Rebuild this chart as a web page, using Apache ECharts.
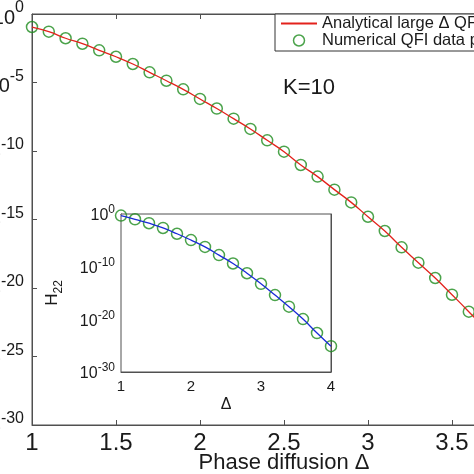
<!DOCTYPE html>
<html>
<head>
<meta charset="utf-8">
<script src="https://cdn.jsdelivr.net/npm/echarts@6/dist/echarts.min.js"></script>
<style>
  html, body { margin: 0; padding: 0; background: #fff; }
  #chart { width: 474px; height: 474px; }
</style>
</head>
<body>
<div id="chart"></div>
<script>
// main panel: phase diffusion vs log10 of the QFI (K=10)
const mainX = [1.0, 1.1, 1.2, 1.3, 1.4, 1.5, 1.6, 1.7, 1.8, 1.9, 2.0, 2.1, 2.2, 2.3, 2.4,
  2.5, 2.6, 2.7, 2.8, 2.9, 3.0, 3.1, 3.2, 3.3, 3.4, 3.5, 3.6, 3.7];
const mainLog10 = [-0.95, -1.29, -1.77, -2.17, -2.65, -3.12, -3.65, -4.26, -4.87, -5.5, -6.2, -6.9,
  -7.64, -8.39, -9.22, -10.05, -11.02, -11.87, -12.82, -13.75, -14.8, -15.84, -17.03, -18.15,
  -19.27, -20.49, -21.73, -23.0];

// inset: H22 vs delta
const insetX = [1.0, 1.2, 1.4, 1.6, 1.8, 2.0, 2.2, 2.4, 2.6, 2.8, 3.0, 3.2, 3.4, 3.6, 3.8, 4.0];
const insetLog10 = [-0.3, -1.0, -1.75, -2.65, -3.75, -4.95, -6.25, -7.8, -9.4, -11.25, -13.25,
  -15.4, -17.6, -19.95, -22.6, -25.1];

const legendNames = ['Analytical large \u0394 QFI', 'Numerical QFI data points'];

const FONT = "'Liberation Sans', Arial, sans-serif";
const AXIS = '#505050';
const TXT = '#1a1a1a';
const GREEN = '#1e8c1e';
const RED = '#e3221c';

const pairs = (xs, ys) => xs.map((x, i) => [x, ys[i]]);
const pow10 = v => '{b|10}{s|' + Math.round(v) + '}';

const chart = echarts.init(document.getElementById('chart'));

const boxAxis = (grid, pos, extra) => Object.assign({
  gridIndex: grid,
  position: pos,
  type: 'value',
  axisLine: {show: true, onZero: false, lineStyle: {color: AXIS, width: 1}},
  axisTick: {show: true, inside: true, length: 5, lineStyle: {color: AXIS}},
  axisLabel: {show: false},
  splitLine: {show: false}
}, extra);

const option = {
  animation: false,
  backgroundColor: '#fff',
  textStyle: {fontFamily: FONT},
  grid: [
    {left: 32, top: 14, width: 504, height: 411, show: true, borderColor: AXIS, borderWidth: 1,
      outerBoundsMode: 'none', containLabel: false},
    {left: 121, top: 214, width: 210, height: 158, show: true, borderColor: AXIS, borderWidth: 1,
      backgroundColor: '#fff', z: 3, outerBoundsMode: 'none', containLabel: false}
  ],
  legend: {
    orient: 'vertical',
    left: 275,
    top: 14,
    padding: [1, 4, 2, 5],
    itemGap: 0,
    itemWidth: 36,
    itemHeight: 11,
    backgroundColor: '#fff',
    borderColor: '#333',
    borderWidth: 1,
    borderRadius: 0,
    textStyle: {fontFamily: FONT, fontSize: 16.5, color: TXT, lineHeight: 17},
    data: [
      {name: legendNames[0], itemStyle: {opacity: 0}},
      {name: legendNames[1], icon: 'circle',
        itemStyle: {color: 'rgba(0,0,0,0)', borderColor: GREEN, borderWidth: 1.5}}
    ]
  },
  xAxis: [
    boxAxis(0, 'bottom', {
      min: 1, max: 4, interval: 0.5,
      axisLabel: {show: true, fontSize: 24, color: TXT, fontFamily: FONT, margin: 6},
      name: 'Phase diffusion \u0394',
      nameLocation: 'middle',
      nameGap: 27,
      nameMoveOverlap: false,
      nameTextStyle: {fontSize: 22, color: TXT, fontFamily: FONT}
    }),
    boxAxis(0, 'top', {min: 1, max: 4, interval: 0.5}),
    boxAxis(1, 'bottom', {
      min: 1, max: 4, interval: 1,
      axisLabel: {show: true, fontSize: 15, color: TXT, fontFamily: FONT, margin: 7},
      name: '\u0394',
      nameLocation: 'middle',
      nameGap: 25,
      nameTextStyle: {fontSize: 16, color: TXT, fontFamily: FONT}
    }),
    boxAxis(1, 'top', {min: 1, max: 4, interval: 1})
  ],
  yAxis: [
    boxAxis(0, 'left', {
      min: -30, max: 0, interval: 5,
      axisLabel: {
        show: true, margin: 8, color: TXT, fontFamily: FONT,
        formatter: pow10,
        rich: {
          b: {fontSize: 20, fontFamily: FONT, color: TXT, verticalAlign: 'bottom'},
          s: {fontSize: 16, fontFamily: FONT, color: TXT, padding: [0, 0, 12, 0], verticalAlign: 'bottom'}
        }
      }
    }),
    boxAxis(1, 'left', {
      min: -30, max: 0, interval: 10,
      axisLabel: {
        show: true, margin: 6, color: TXT, fontFamily: FONT,
        formatter: pow10,
        rich: {
          b: {fontSize: 16, fontFamily: FONT, color: TXT, verticalAlign: 'bottom'},
          s: {fontSize: 12, fontFamily: FONT, color: TXT, padding: [0, 0, 8, 0], verticalAlign: 'bottom'}
        }
      },
      name: '{h|H}{u|22}',
      nameLocation: 'middle',
      nameGap: 56,
      nameTextStyle: {
        rich: {
          h: {fontSize: 17, fontFamily: FONT, color: TXT, verticalAlign: 'top'},
          u: {fontSize: 12, fontFamily: FONT, color: TXT, padding: [9, 0, 0, 0], verticalAlign: 'top'}
        }
      }
    }),
    boxAxis(1, 'right', {min: -30, max: 0, interval: 10})
  ],
  graphic: [{
    type: 'text',
    left: 283,
    top: 77,
    style: {text: 'K=10', fontSize: 22, fontFamily: FONT, fill: TXT}
  }],
  series: [
    {
      name: legendNames[1],
      type: 'scatter',
      xAxisIndex: 0, yAxisIndex: 0,
      data: pairs(mainX, mainLog10),
      symbol: 'circle',
      symbolSize: 11,
      itemStyle: {color: 'rgba(0,0,0,0)', borderColor: GREEN, borderWidth: 1.5}
    },
    {
      name: legendNames[0],
      type: 'line',
      xAxisIndex: 0, yAxisIndex: 0,
      data: pairs(mainX, mainLog10),
      smooth: true,
      symbol: 'none',
      lineStyle: {color: RED, width: 1.3},
      itemStyle: {color: RED},
      z: 3
    },
    {
      type: 'scatter',
      xAxisIndex: 2, yAxisIndex: 1,
      data: pairs(insetX, insetLog10),
      symbol: 'circle',
      symbolSize: 11,
      itemStyle: {color: 'rgba(0,0,0,0)', borderColor: GREEN, borderWidth: 1.5},
      z: 4
    },
    {
      type: 'line',
      xAxisIndex: 2, yAxisIndex: 1,
      data: pairs(insetX, insetLog10),
      smooth: true,
      symbol: 'none',
      lineStyle: {color: '#1a2ad8', width: 1.3},
      z: 5
    }
  ]
};

chart.setOption(option);
</script>
</body>
</html>
